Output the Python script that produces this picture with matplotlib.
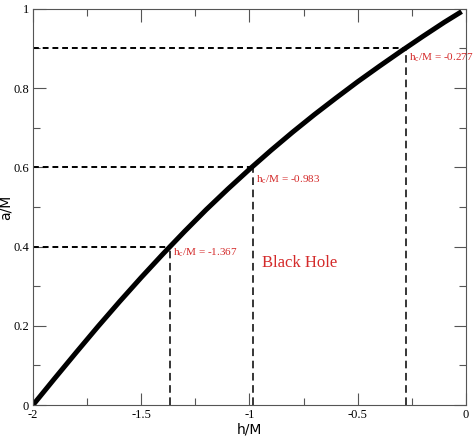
import matplotlib
matplotlib.use("Agg")
import matplotlib.pyplot as plt
from matplotlib.ticker import MultipleLocator, FuncFormatter

# curve
h_curve = [-2.0, -1.9, -1.8, -1.7, -1.6, -1.5, -1.4, -1.3, -1.2, -1.1, -1.0,
           -0.9, -0.8, -0.7, -0.6, -0.5, -0.4, -0.3, -0.2, -0.1, -0.02]
a_curve = [0.0, 0.067, 0.133, 0.198, 0.261, 0.322, 0.381, 0.438, 0.493, 0.545, 0.595,
           0.643, 0.689, 0.733, 0.775, 0.816, 0.855, 0.893, 0.930, 0.966, 0.993]

# marked critical points
h_crit = [-1.367, -0.983, -0.277]
a_crit = [0.4, 0.6, 0.9]
crit_labels = ["$\\mathregular{h_c/M}$ = -1.367", "$\\mathregular{h_c/M}$ = -0.983",
               "$\\mathregular{h_c/M}$ = -0.277"]
label_y = [0.384, 0.568, 0.876]

red = "#d42a2a"

fig = plt.figure(figsize=(4.74, 4.4), dpi=100)
ax = fig.add_axes([0.0696, 0.0795, 0.9134, 0.9005])

ax.plot(h_curve, a_curve, color="black", lw=3.6, solid_capstyle="butt")

for hc, ac, lab, ly in zip(h_crit, a_crit, crit_labels, label_y):
    ax.plot([-2, hc], [ac, ac], ls=(0, (3, 2)), color="black", lw=1.4)
    ax.plot([hc, hc], [0, ac], ls=(0, (5, 3)), color="black", lw=1.1)
    ax.text(hc + 0.012, ly, lab, color=red, fontsize=8,
            family="Liberation Serif", va="center", ha="left")

ax.text(-0.942, 0.359, "Black Hole", color=red, fontsize=12,
        family="Liberation Serif", va="center", ha="left")

ax.set_xlim(-2, 0)
ax.set_ylim(0, 1)
ax.xaxis.set_major_locator(MultipleLocator(0.5))
ax.xaxis.set_minor_locator(MultipleLocator(0.25))
ax.yaxis.set_major_locator(MultipleLocator(0.2))
ax.yaxis.set_minor_locator(MultipleLocator(0.1))
fmt = FuncFormatter(lambda v, p: "%g" % round(v, 3))
ax.xaxis.set_major_formatter(fmt)
ax.yaxis.set_major_formatter(fmt)

ax.tick_params(which="both", direction="in", top=True, right=True,
               color="#555555", width=0.8, labelsize=9, pad=3)
ax.tick_params(which="major", length=9)
ax.tick_params(which="minor", length=5)
for lab in ax.get_xticklabels() + ax.get_yticklabels():
    lab.set_family("Liberation Serif")
for sp in ax.spines.values():
    sp.set_color("#555555")
    sp.set_linewidth(0.8)

ax.set_xlabel("h/M", fontsize=10, labelpad=1)
ax.set_ylabel("a/M", fontsize=10, labelpad=0)

fig.savefig("out.png", dpi=100)
